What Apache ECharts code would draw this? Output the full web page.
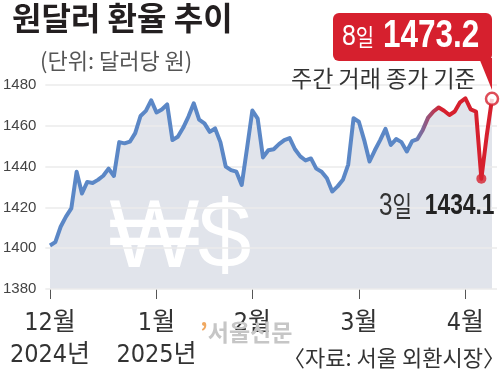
<!DOCTYPE html>
<html>
<head>
<meta charset="utf-8">
<script src="https://cdn.jsdelivr.net/npm/echarts@6/dist/echarts.min.js"></script>
<style>
  html, body { margin: 0; padding: 0; background: #fff; }
  #chart { width: 500px; height: 376px; }
</style>
</head>
<body>
<div id="chart"></div>
<script>
// trading days (서울 외환시장 주간 거래)
var decDays = [2, 3, 4, 5, 6, 9, 10, 11, 12, 13, 16, 17, 18, 19, 20, 23, 24, 26, 27, 30]
var janDays = [2, 3, 6, 7, 8, 9, 10, 13, 14, 15, 16, 17, 20, 21, 22, 23, 24, 31]
var febDays = [3, 4, 5, 6, 7, 10, 11, 12, 13, 14, 17, 18, 19, 20, 21, 24, 25, 26, 27, 28]
var marDays = [4, 5, 6, 7, 10, 11, 12, 13, 14, 17, 18, 19, 20, 21, 24, 25, 26, 27, 28, 31]
var aprDays = [1, 2, 3, 4, 7, 8]

// 원달러 환율 종가
var decRates = [1401.3, 1403, 1410.5, 1415.5, 1419.5, 1437.5, 1426.8, 1432.5, 1432, 1433.5,
  1435.5, 1439, 1435.4, 1452, 1451.4, 1452.2, 1456.4, 1464.8, 1467.3, 1472.5]
var janRates = [1466.5, 1468, 1470.5, 1453, 1454.6, 1459, 1464.5, 1471, 1463, 1461.2,
  1457, 1458.7, 1452, 1440, 1438.3, 1437.5, 1431, 1449]
var febRates = [1467.5, 1463.5, 1444.5, 1448, 1448.5, 1451, 1453, 1454, 1448.5, 1445,
  1443, 1444, 1439, 1437.5, 1434.3, 1427.8, 1430.3, 1433.5, 1441, 1463.7]
var marRates = [1462, 1453, 1442.5, 1448, 1453, 1458.5, 1450.6, 1453.5, 1452, 1447.4,
  1452.5, 1453.5, 1458, 1464, 1467, 1469, 1467.4, 1465.3, 1467, 1471.5]
var aprRates = [1473.5, 1468, 1467, 1434.1, 1455, 1473.2]

// 축 눈금
var monthTicks = {
  '12/2': '12월\n2024년',
  '1/2': '1월\n2025년',
  '2/3': '2월',
  '3/4': '3월',
  '4/1': '4월'
}
var yMin = 1380
var yMax = 1480
var yStep = 20

var categories = []
  .concat(decDays.map(function (d) { return '12/' + d }))
  .concat(janDays.map(function (d) { return '1/' + d }))
  .concat(febDays.map(function (d) { return '2/' + d }))
  .concat(marDays.map(function (d) { return '3/' + d }))
  .concat(aprDays.map(function (d) { return '4/' + d }))
var rates = [].concat(decRates, janRates, febRates, marRates, aprRates)

var lastIdx = rates.length - 1
var lowIdx = rates.indexOf(Math.min.apply(null, rates.slice(rates.length - 6)))

var BLUE = '#5b87c6'
var RED = '#d6202e'
var SANS = "'Liberation Sans', Arial, sans-serif"
var CONDENSED = "'DejaVu Sans Condensed', 'Noto Sans CJK KR', sans-serif"
var KR = "'Noto Sans CJK KR', sans-serif"

function isTick (idx, val) { return monthTicks[val] !== undefined }

var chart = echarts.init(document.getElementById('chart'), null, { renderer: 'canvas' })

var option = {
  backgroundColor: '#fff',
  animation: false,
  grid: [
    { left: 42, right: 3, top: 85, bottom: 87 },
    { left: 50, right: 8, top: 85, bottom: 87 }
  ],
  xAxis: [
    { gridIndex: 0, type: 'value', show: false, min: 0, max: 1 },
    {
      gridIndex: 1,
      type: 'category',
      boundaryGap: false,
      data: categories,
      axisLine: { show: false },
      axisTick: {
        show: true,
        interval: isTick,
        length: 10,
        lineStyle: { color: '#555', width: 1 }
      },
      axisLabel: {
        interval: isTick,
        formatter: function (val) { return monthTicks[val] || '' },
        margin: 18,
        fontFamily: CONDENSED,
        fontSize: 25,
        lineHeight: 32,
        color: '#333'
      },
      splitLine: { show: false }
    }
  ],
  yAxis: [
    {
      gridIndex: 0,
      type: 'value',
      min: yMin,
      max: yMax,
      interval: yStep,
      z: 2,
      axisLine: { show: false },
      axisTick: { show: false },
      axisLabel: {
        margin: 9,
        formatter: function (v) { return String(v) },
        fontFamily: SANS,
        fontSize: 15,
        color: '#444'
      },
      splitLine: { lineStyle: { color: '#ebebeb', width: 1.5 } }
    },
    {
      gridIndex: 1,
      type: 'value',
      min: yMin,
      max: yMax,
      show: false,
      splitLine: { show: false }
    }
  ],
  series: [
    {
      name: 'area',
      type: 'line',
      xAxisIndex: 1,
      yAxisIndex: 1,
      data: rates,
      symbol: 'none',
      z: 1,
      lineStyle: { width: 0 },
      areaStyle: { color: '#e1e4eb', opacity: 1, origin: 'start' }
    },
    {
      name: '환율',
      type: 'line',
      xAxisIndex: 1,
      yAxisIndex: 1,
      data: rates,
      symbol: 'none',
      z: 3,
      lineStyle: {
        width: 4,
        join: 'round',
        color: new echarts.graphic.LinearGradient(0, 0, 1, 0, [
          { offset: 0, color: BLUE },
          { offset: 0.82, color: BLUE },
          { offset: 0.88, color: RED },
          { offset: 1, color: RED }
        ])
      }
    },
    {
      name: 'marks',
      type: 'scatter',
      xAxisIndex: 1,
      yAxisIndex: 1,
      z: 4,
      data: [
        { value: [lowIdx, rates[lowIdx]], symbolSize: 10, itemStyle: { color: RED } },
        { value: [lastIdx, rates[lastIdx]], symbolSize: 12, itemStyle: { color: '#fff', borderColor: RED, borderWidth: 2.5 } }
      ]
    }
  ],
  graphic: [
    {
      type: 'text', x: 12, y: 18, z: 5,
      style: { text: '원달러 환율 추이', font: 'bold 32px ' + KR, fill: '#231f20', verticalAlign: 'middle' }
    },
    {
      type: 'text', x: 40, y: 61, z: 5,
      style: { text: '(단위: 달러당 원)', font: '22px ' + KR, fill: '#555', verticalAlign: 'middle' }
    },
    {
      type: 'text', x: 109, y: 241, z: 2,
      style: { text: '₩', font: '96px ' + "'Liberation Sans', 'DejaVu Sans', sans-serif", fill: '#fff', verticalAlign: 'middle' }
    },
    {
      type: 'text', x: 198, y: 241, z: 2,
      style: { text: '$', font: '96px ' + SANS, fill: '#fff', verticalAlign: 'middle' }
    },
    {
      type: 'rect', z: 5,
      shape: { x: 333, y: 13, width: 159, height: 48, r: 6 },
      style: { fill: RED }
    },
    {
      type: 'polygon', z: 5,
      shape: { points: [[479, 58], [492, 58], [492, 90]] },
      style: { fill: RED }
    },
    {
      type: 'text', x: 342, y: 37, z: 6, scaleX: 0.83,
      style: {
        text: '{a|8}{b|일}{c| 1473.2}',
        verticalAlign: 'middle',
        rich: {
          a: { fontFamily: SANS, fontSize: 30, fill: '#fff', verticalAlign: 'middle', height: 40, lineHeight: 40 },
          b: { fontFamily: KR, fontSize: 24, fill: '#fff', verticalAlign: 'middle', height: 40, lineHeight: 40 },
          c: { fontFamily: SANS, fontSize: 38, fontWeight: 'bold', fill: '#fff', verticalAlign: 'middle', height: 40, lineHeight: 40 }
        }
      }
    },
    {
      type: 'text', x: 291, y: 78, z: 5,
      style: { text: '주간 거래 종가 기준', font: '23px ' + KR, fill: '#333', verticalAlign: 'middle' }
    },
    {
      type: 'text', x: 379, y: 206, z: 5, scaleX: 0.76,
      style: {
        text: '{a|3}{b|일}{c|  1434.1}',
        verticalAlign: 'middle',
        rich: {
          a: { fontFamily: SANS, fontSize: 32, fill: '#333', verticalAlign: 'middle', height: 36, lineHeight: 36 },
          b: { fontFamily: KR, fontSize: 28, fill: '#333', verticalAlign: 'middle', height: 36, lineHeight: 36 },
          c: { fontFamily: SANS, fontSize: 30, fontWeight: 'bold', fill: '#222', verticalAlign: 'middle', height: 36, lineHeight: 36 }
        }
      }
    },
    {
      type: 'text', x: 200, y: 332, z: 5,
      style: {
        text: '{a|\u2019}{b|서울신문}',
        verticalAlign: 'middle',
        rich: {
          a: { fontFamily: KR, fontSize: 24, fontWeight: 'bold', fill: '#f0a860' },
          b: { fontFamily: KR, fontSize: 23, fontWeight: 'bold', fill: '#c6c6c6' }
        }
      }
    },
    {
      type: 'text', x: 283, y: 358, z: 5,
      style: { text: '〈자료: 서울 외환시장〉', font: '22px ' + KR, fill: '#333', verticalAlign: 'middle' }
    }
  ]
}

chart.setOption(option)
</script>
</body>
</html>
